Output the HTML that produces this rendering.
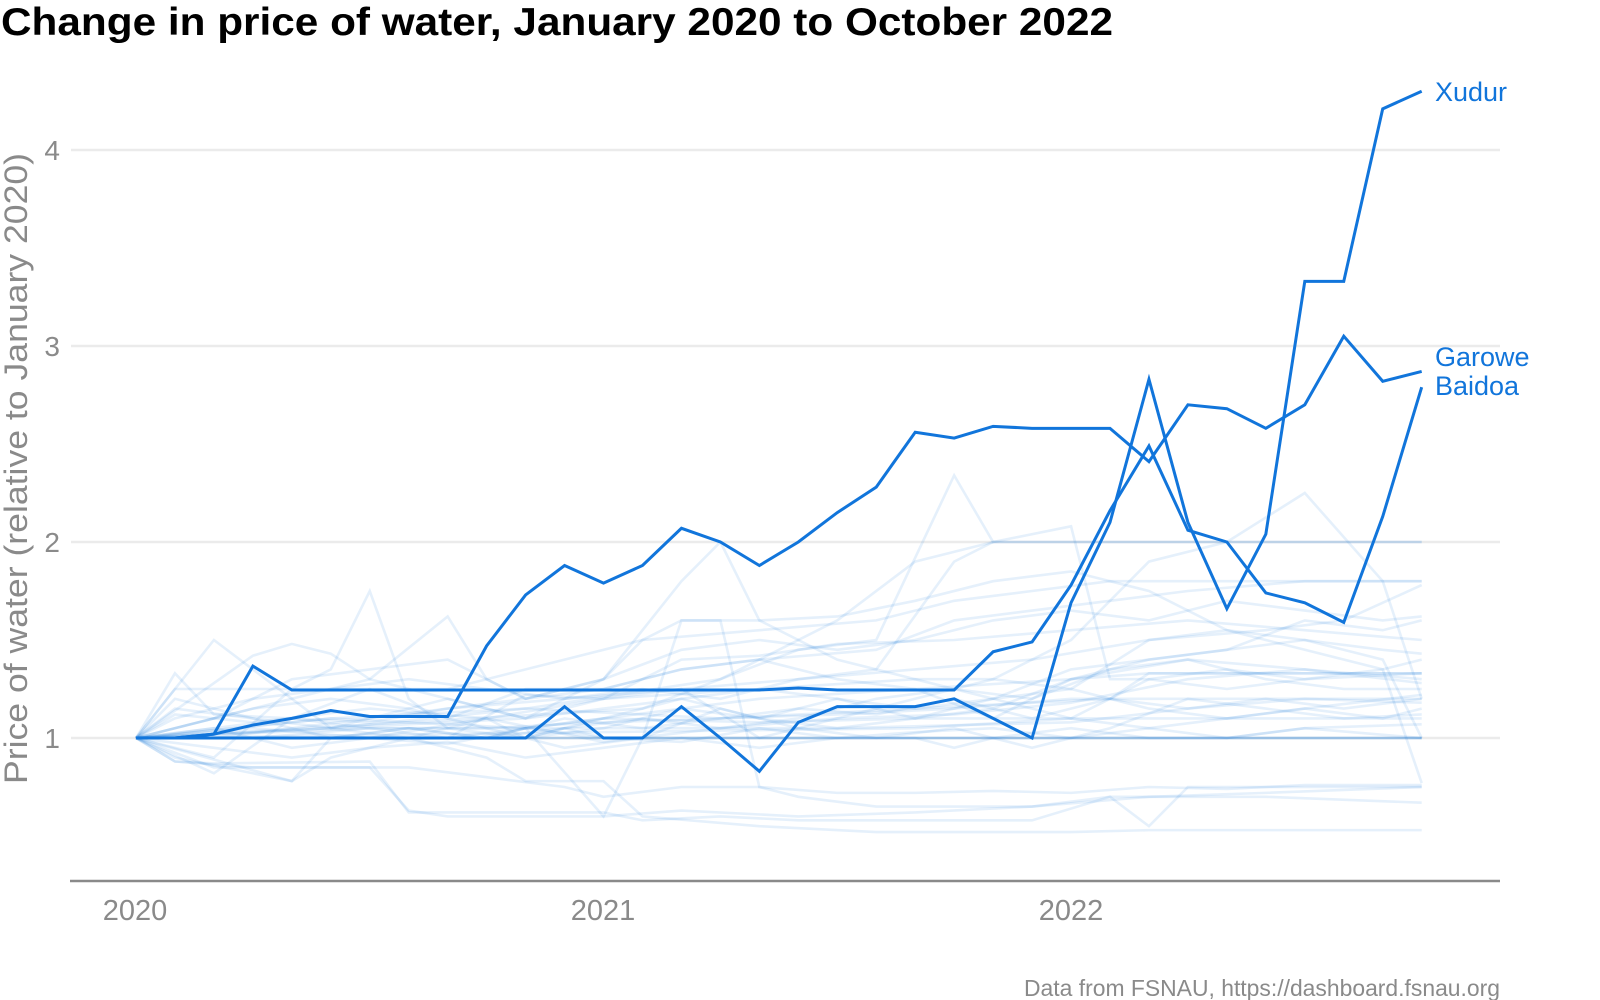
<!DOCTYPE html>
<html>
<head>
<meta charset="utf-8">
<style>
  html, body { margin: 0; padding: 0; background: #ffffff; }
  body { width: 1600px; height: 1000px; overflow: hidden; }
  svg { display: block; }
  .faint polyline { fill: none; stroke: #1175db; stroke-opacity: 0.11; stroke-width: 2.6; vector-effect: non-scaling-stroke; }
  .hl polyline { fill: none; stroke: #1175db; stroke-width: 3; vector-effect: non-scaling-stroke; stroke-linejoin: miter; }
</style>
</head>
<body>
<svg width="1600" height="1000" viewBox="0 0 1600 1000" xmlns="http://www.w3.org/2000/svg">
  <rect x="0" y="0" width="1600" height="1000" fill="#ffffff"/>

  <!-- Title -->
  <text x="1" y="35" font-family="Liberation Sans, Arial, sans-serif" font-weight="bold" font-size="39" fill="#000000" textLength="1112" lengthAdjust="spacingAndGlyphs">Change in price of water, January 2020 to October 2022</text>

  <!-- Gridlines -->
  <g stroke="#ebebeb" stroke-width="2.5">
    <line x1="71" y1="150" x2="1500" y2="150"/>
    <line x1="71" y1="346" x2="1500" y2="346"/>
    <line x1="71" y1="542" x2="1500" y2="542"/>
    <line x1="71" y1="738" x2="1500" y2="738"/>
  </g>

  <!-- Y tick labels -->
  <g font-family="Liberation Sans, Arial, sans-serif" font-size="28" fill="#8a8a8a" text-anchor="end">
    <text x="60" y="160">4</text>
    <text x="60" y="356">3</text>
    <text x="60" y="552">2</text>
    <text x="60" y="748">1</text>
  </g>

  <!-- Y axis title -->
  <text transform="translate(27,468.5) rotate(-90)" text-anchor="middle" font-family="Liberation Sans, Arial, sans-serif" font-size="32" fill="#8a8a8a" textLength="631" lengthAdjust="spacingAndGlyphs">Price of water (relative to January 2020)</text>

  <!-- X axis line -->
  <line x1="70" y1="881" x2="1500" y2="881" stroke="#8a8a8a" stroke-width="2.5"/>

  <!-- X tick labels -->
  <g font-family="Liberation Sans, Arial, sans-serif" font-size="29" fill="#8a8a8a" text-anchor="middle">
    <text x="135" y="920">2020</text>
    <text x="603" y="920">2021</text>
    <text x="1071" y="920">2022</text>
  </g>

  <!-- Data: month index -> x, value -> y -->
  <g transform="matrix(38.96 0 0 -196 136 934)">
    <g class="faint">
      <polyline points="0,1 1,1.33 2,1.12 4,1.1 6,1.08 8,1.15 11,1.2 14,1.25 17,1.3 20,1.35 23,1.4 26,1.5 29,1.55 31,1.6 33,1.78"/>
      <polyline points="0,1 1,1.25 8,1.25 9,1.3 11,1.4 13,1.5 16,1.55 19,1.6 21,1.7 23,1.75 25,1.8 33,1.8"/>
      <polyline points="0,1 2,1.5 3,1.35 5,1.05 7,1.0 9,1.1 10,1.0 12,1.05 14,1.15 16,1.1 18,1.2 20,1.15 22,1.2 24,1.1 26,1.3 28,1.25 30,1.3 32,1.35 33,1.4"/>
      <polyline points="0,1 1,0.88 3,0.85 6,0.85 7,0.63 8,0.6 12,0.6 14,0.63 17,0.6 20,0.62 23,0.65 26,0.7 29,0.72 33,0.75"/>
      <polyline points="0,1 1,0.9 3,0.82 4,0.78 5,0.9 7,1.0 9,0.9 10,0.78 12,0.78 13,0.6 16,0.55 19,0.52 24,0.52 26,0.53 29,0.53 33,0.53"/>
      <polyline points="0,1 3,1.42 4,1.48 5,1.43 6,1.3 8,1.2 10,1.1 12,1.2 14,1.4 16,1.42 18,1.48 21,1.5 24,1.55 27,1.6 30,1.55 33,1.5"/>
      <polyline points="0,1 2,0.9 4,1.25 5,1.35 6,1.75 7,1.2 8,1.05 10,1.0 12,1.1 14,1.2 16,1.1 18,1.05 20,1.1 22,1.15 24,1.3 27,1.4 30,1.35 33,1.3"/>
      <polyline points="0,1 4,1.2 6,1.3 8,1.62 9,1.3 10,1.2 12,1.3 13,1.5 14,1.6 16,1.6 18,1.62 20,1.7 22,1.8 24,1.85 26,1.75 28,1.55 30,1.45 32,1.35 33,0.77"/>
      <polyline points="0,1 2,0.85 4,0.85 7,0.85 9,0.8 11,0.75 12,0.7 14,0.75 16,0.75 18,0.72 20,0.72 22,0.73 24,0.72 26,0.75 28,0.74 30,0.76 33,0.76"/>
      <polyline points="0,1 2,1.0 4,1.05 6,1.1 8,1.15 10,1.2 12,1.25 14,1.35 16,1.4 19,1.45 21,1.6 23,1.65 25,1.7 27,1.75 30,1.8 33,1.8"/>
      <polyline points="0,1 1,1.1 3,1.2 5,1.25 7,1.3 9,1.25 11,1.2 13,1.25 15,1.2 17,1.3 19,1.35 21,1.9 22,2.0 33,2.0"/>
      <polyline points="0,1 5,1.05 10,1.15 15,1.3 18,1.6 20,1.9 22,2.0 33,2.0"/>
      <polyline points="0,1 13,1.15 15,1.3 17,1.45 19,1.5 21,2.34 22,2.0 24,2.08 25,1.3 26,1.3 28,1.35 30,1.3 33,1.33"/>
      <polyline points="0,1 10,1.1 12,1.3 14,1.8 15,2.0 16,1.6 18,1.4 20,1.3 22,1.3 24,1.5 26,1.9 28,2.0 30,2.25 32,1.8 33,1.2"/>
      <polyline points="0,1 5,1.1 10,1.05 12,0.6 13,1.0 14,1.6 15,1.6 16,0.75 17,0.7 19,0.65 21,0.65 23,0.65 25,0.7 29,0.7 33,0.67"/>
      <polyline points="0,1 8,1 12,1.1 16,1.2 20,1.25 24,1.3 26,1.33 33,1.33"/>
      <polyline points="0,1 5,1.1 10,1.15 15,1.1 20,1.15 25,1.2 26,1.33 33,1.33"/>
      <polyline points="0,1 33,1"/>
      <polyline points="0,1 33,1"/>
      <polyline points="0,1 33,1"/>
      <polyline points="0,1 10,1 11,1.05 12,1 20,1 21,0.95 22,1 33,1"/>
      <polyline points="0,1 1,1.15 3,1.1 5,1.0 7,1.05 9,1.0 11,1.1 13,1.05 15,1.1 17,1.15 19,1.12 21,1.2 23,1.1 25,1.2 27,1.15 29,1.2 31,1.15 33,1.2"/>
      <polyline points="0,1 2,1.05 4,0.95 6,1.0 8,0.97 10,1.05 12,1.0 14,0.98 16,1.05 18,1.0 20,1.03 22,1.05 24,1.0 26,1.05 28,1.0 30,1.05 33,1.07"/>
      <polyline points="0,1 2,0.82 4,1.1 6,1.25 8,1.1 10,1.25 12,1.25 14,1.35 16,1.4 18,1.3 20,1.25 22,1.1 24,1.3 26,1.4 28,1.45 30,1.5 32,1.45 33,1.43"/>
      <polyline points="0,1 3,1.15 5,1.2 7,1.15 9,1.05 11,0.95 13,1.0 15,1.15 17,1.05 19,1.0 21,1.05 23,0.95 25,1.05 27,1.2 29,1.15 31,1.1 33,1.12"/>
      <polyline points="0,1 1,0.88 2,0.87 6,0.88 7,0.62 8,0.62 12,0.62 13,0.58 15,0.6 17,0.58 19,0.58 23,0.58 25,0.7 26,0.55 27,0.75 29,0.75 33,0.75"/>
      <polyline points="0,1 4,0.78 5,1.0 7,1.05 9,1.0 11,1.05 13,1.1 15,1.05 17,1.1 19,1.2 21,1.25 23,1.2 25,1.35 27,1.4 29,1.3 31,1.25 33,1.25"/>
      <polyline points="0,1 2,1.1 4,1.3 6,1.35 8,1.4 10,1.2 12,1.3 14,1.45 16,1.5 18,1.45 20,1.5 22,1.6 24,1.65 26,1.6 28,1.7 30,1.65 32,1.6 33,1.62"/>
      <polyline points="0,1 3,1.0 6,1.05 9,1.05 12,1.08 15,1.1 18,1.12 21,1.15 24,1.2 27,1.2 30,1.2 33,1.2"/>
      <polyline points="0,1 6,1.05 12,1.05 18,1.05 24,1.08 27,1.15 30,1.2 33,1.18"/>
      <polyline points="0,1 1,1.2 3,1.1 5,1.05 8,1.2 10,1.1 12,1.15 14,1.2 16,1.25 18,1.2 20,1.1 22,1.2 24,1.25 26,1.15 28,1.1 30,1.15 33,1.22"/>
      <polyline points="0,1 2,0.95 4,0.9 6,0.95 8,0.98 10,0.9 12,0.95 14,1.0 16,0.95 18,1.0 22,1.0 24,1.05 26,1.0 28,1.0 30,1.05 33,1.0"/>
      <polyline points="0,1 9,1.0 10,1.05 12,1.1 16,1.08 20,1.1 24,1.1 28,1.1 33,1.1"/>
      <polyline points="0,1 3,1.05 6,1.0 9,1.1 12,1.2 16,1.25 20,1.3 22,1.2 24,1.35 26,1.4 28,1.45 30,1.6 32,1.55 33,1.6"/>
      <polyline points="0,1 4,1.1 8,1.0 10,1.22 12,1.2 14,1.25 16,1.0 18,1.1 20,1.2 22,1.3 24,1.25 26,1.5 28,1.55 30,1.5 32,1.4 33,1.0"/>
      <polyline points="0,1 20,1.05 24,1.1 26,1.05 28,1.1 30,1.15 32,1.1 33,1.15"/>
      <polyline points="0,1 1,1.12 3,1.08 6,1.15 9,1.1 12,0.98 15,1.05 18,1.1 21,1.12 24,1.18 27,1.3 30,1.35 33,1.28"/>
    </g>

    <g class="hl">
      <!-- Xudur -->
      <polyline points="0,1 10,1 11,1.16 12,1 13,1 14,1.16 15,1.0 16,0.83 17,1.08 18,1.16 19,1.16 20,1.16 21,1.2 22,1.1 23,1.0 24,1.69 25,2.1 26,2.83 27,2.1 28,1.66 29,2.04 30,3.33 31,3.33 32,4.21 33,4.3"/>
      <!-- Garowe -->
      <polyline points="0,1 1,1 2,1.02 3,1.066 4,1.1 5,1.14 6,1.11 7,1.11 8,1.11 9,1.47 10,1.73 11,1.88 12,1.79 13,1.88 14,2.07 15,2.0 16,1.88 17,2.0 18,2.15 19,2.28 20,2.56 21,2.53 22,2.59 23,2.58 24,2.58 25,2.58 26,2.41 27,2.7 28,2.68 29,2.58 30,2.7 31,3.05 32,2.82 33,2.87"/>
      <!-- Baidoa -->
      <polyline points="0,1 1,1 2,1.02 3,1.367 4,1.245 16,1.245 17,1.255 18,1.245 21,1.245 22,1.44 23,1.49 24,1.78 25,2.16 26,2.49 27,2.06 28,2.0 29,1.74 30,1.69 31,1.59 32,2.13 33,2.79"/>
    </g>
  </g>

  <!-- Series labels -->
  <g font-family="Liberation Sans, Arial, sans-serif" font-size="27" fill="#1175db">
    <text x="1435" y="101">Xudur</text>
    <text x="1435" y="366">Garowe</text>
    <text x="1435" y="395">Baidoa</text>
  </g>

  <!-- Caption -->
  <text x="1500" y="996" text-anchor="end" font-family="Liberation Sans, Arial, sans-serif" font-size="23" fill="#8a8a8a" textLength="476" lengthAdjust="spacingAndGlyphs">Data from FSNAU, https://dashboard.fsnau.org</text>
</svg>
</body>
</html>
